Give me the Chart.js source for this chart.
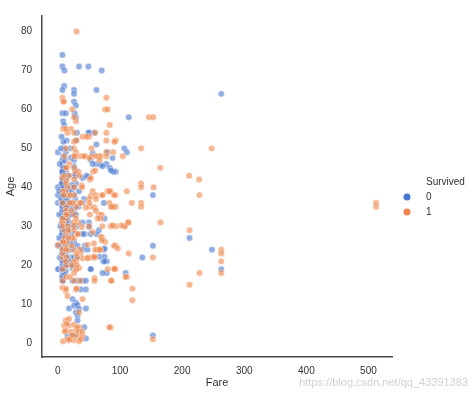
<!DOCTYPE html>
<html>
<head>
<meta charset="utf-8">
<script src="https://cdn.jsdelivr.net/npm/chart.js@4"></script>
<style>
  html, body { margin: 0; padding: 0; background: #fff; }
  #wrap { width: 474px; height: 396px; }
</style>
</head>
<body>
<div id="wrap"><canvas id="chart" width="474" height="396"></canvas></div>
<script>
/* Fare vs Age, Titanic, hue = Survived */
const xTicks = [0, 100, 200, 300, 400, 500];
const yTicks = [0, 10, 20, 30, 40, 50, 60, 70, 80];
const hueLabels = ["0", "1"];

// [fare, age] for Survived = 0
const diedPoints = [
  [263,64],[153,38],[212,27],[153,25],[136,22],[248,24],[263,19],[153,2],[114,58],[107,50],[111,49],[93,44],[109,18],
  [49,71],[70.5,70],[62,65],[51,54],[62,51],[62,46],[78,46],[83.5,45],[89.5,44],[46,43],[42,37],[74,36],[50,31],
  [66,29],[43,28],[52.7,28],[43.5,25],[74,24],[73,21],[78.6,21],[52.7,19],[78.6,18],
  [7.3,74],[7.3,71],[10.5,70],[34,71],[10,66],[7.3,65],[26,65],[26,64],[26,62],[29,61],[7.3,59],[12.7,59],[29,58],
  [27,59],[8.4,57],[10,56],[30.5,54],[49,54],[58.7,54],[14,52],[9,51.7],[29,52],[0,49],[10,50],[12.7,49],[8.4,48],
  [21,47.6],[56,48.7],[80,49],[88,47.5],[7.3,47],[8,46.2],[9,45],[7.5,44],[8.5,43],[26,47],[26,45.4],[29,44.3],
  [53,47],[56,46],[69,45.8],[72,45.4],[85.6,44.3],[39.7,42.4],[48,42.8],[29,41],[22.4,40.6],
  [39.7,36],[75,32],[39.7,31],[50.6,29.8],[62.4,28],[40,28],[39.7,24],[47.8,24],[75,24.3],[66.8,22.2],[75,22.2],[75,21],
  [2,19],[10,19],[12.7,18.4],[23.5,19.3],[53,19],[72,18],[7.3,17.2],[7.3,16],[23.5,16],[31.6,16],[39.7,16],[45,16],
  [37,13.8],[45,13.8],[23.5,11.3],[29,10.4],[18,8.9],[26,9.6],[31.6,9.8],[34,8.8],[45,8.9],[29,7.9],[31.6,7.1],
  [31.6,5.8],[42.5,4.1],[23.5,2],[29,1.8],[15.4,1.8],[45,1.2],
  [7.25,22],[8.05,35],[8.46,29],[7.9,20],[8.05,39],[18,31],[13,35],[7.9,28],[7.23,40],[7.75,19],[26,40],[8.05,28],
  [8.05,42],[7.85,21],[7.78,18],[7.05,40],[18,24],[9.5,19],[7.9,38],[7.25,19],[26,34],[7.9,35],[8.05,19],[14.45,29],
  [13,28],[8.05,26],[7.75,22],[15.5,40],[7.9,34],[10.5,31],[0,36],[8.05,16],[9.5,25],[13,24],[7.25,17],[7.9,30],
  [7.9,22],[7.75,45],[13,23],[26,33],[8.05,32],[15.85,37],[9.83,32],[7.9,31],[0,40],[8.05,40.5],[7.75,23],[13,27],
  [14.5,26],[6.98,36],[8.66,30],[7.9,33],[9.22,30],[16.1,20],[7.05,21],[7.8,44],[8.05,41],[7.75,38],[0,19],[0,25],
  [10.5,36],[24.15,25],[26,26],[27.7,37],[16.7,34],[7.9,37],[7.9,24],[7.9,27],[7.9,29],[7.9,32],[7.9,36],[8.05,43],
  [8.05,25],[8.05,23],[13,21],[13,30],[13,32],[13,34],[13,39],[13,44],[10.5,18],[10.5,25],[10.5,42],[6.75,33],
  [6.5,36],[7.13,26],[7.13,35],[7.5,30],[7.5,38],[7.23,27],[7.23,21],[7.65,29],[7.65,23],[9,28],[9.48,33],[9.5,45],
  [14.4,38],[15.1,25],[15.25,32],[19.97,28],[21,22],[21,30],[22.5,24],[23.45,33],[26.25,22],[30.07,30],[31,22],
  [34,39],[0,38],[7.9,41],[8.05,37],[13,37],[13,42],[26,38],[26,43],[7.25,30],[7.25,36],[8.05,33],[7.9,26],[7.75,27],
  [16.1,29],[17.8,35],[21,36],[24.15,20],[27.9,43],[7.9,23],[9.5,33],[13,20],[7.75,32],[7.25,42],
  [2,39],[2,33],[2,27],[3,22],[4,30],[5,37],[5,25],[6,19],[6,41],[6.2,31],[6.4,28],[6.6,23],[6.9,34],[7,44],
  [7.1,38],[7.4,32],[7.6,20],[7.7,35],[8.2,29],[8.3,24],[8.6,36],[8.8,21],[9.2,40],[9.6,27],[10,34],[10.2,23],
  [11,38],[11.3,29],[11.6,20],[12,33],[12.4,26],[14,31],[14.8,22],[15,35],[16,27],[17,39],[18.5,21],[19.5,33],
  [20,26],[22,39],[24,30],[25,35],[27,28],[29,33],[31.5,25],[33,35],[5,50],[6,53],[3,46],[11,47],[16,43],[20,50]
];

// [fare, age] for Survived = 1
const survivedPoints = [
  [512.3,35],[512.3,36],[146.5,58],[153.5,58],[134,50],[247.5,50],[164.9,45],[211.3,43],[227.5,42],[134,41],[134,40],
  [154,40],[228,38],[134,36],[134,35],[165,31],[212,29],[153,22],[263,24],[263,23],[263,21],[263,18],[228,18],[212,15],
  [153,1],[93,52],[111,39],[93,38],[119,36],[93,35],[114,31],[107,30],[93,30],[93,25],[114,23],[93,19],[111,17],
  [120,14],[120,11],[85,4],
  [78,63],[76,60],[80,60],[83.5,56],[60,54],[50,53],[78,54],[78,52],[54,50],[89,49],[78,49],[78,48],[36.5,48],
  [43.5,48],[54,48],[65,48],[56.5,44],[51.5,42],[38,40.5],[70.5,38],[80,39],[85,39],[90.5,38],[52.7,37.8],[88,35],
  [90,35],[51.5,35],[51.5,33],[38,36],[50,37],[66,33],[70.5,33],[69,32],[50,30],[85,30],[108,30],[113,31],[71.6,30],
  [71.6,27],[76,26],[58,25.6],[90.5,25],[63.5,24],[69,24],[49,22],[55.5,22],[36.5,23],[59.6,22],[90.5,19],[59,16.7],
  [59,16],[86.7,16],[109,17],
  [30,80],[7.3,63],[10,62],[9,62],[29,57],[21,55],[15.4,54],[26,54],[8.6,55],[39.7,53],[46,53],[26,51.7],[91,51.7],
  [26,50],[29,49],[29,48],[42.5,48],[50.6,47.5],[61.3,48],[69,48],[104.5,48],[18,46],[18,43],[67,47],[60,44.3],
  [53,42.4],[7.3,42.4],[13.8,41.7],
  [56,39],[61,38],[72,38],[83,39],[50.6,36],[61.3,37],[83,36],[85.6,35],[45,34.8],[58.7,34.8],[61.3,34],[64,32],
  [88,30.2],[102,30.2],[33,30.9],[38.6,29.8],[56,28.5],[69.4,27.3],[71,26.4],[47.8,25.3],[60,24],[66.8,24],[96.4,24.3],
  [0,25.2],[39.7,21.8],[47.8,21.8],[58.7,22.2],[29,21],[80,19],[91,19.1],
  [29,19],[34,19.3],[85.6,16],[36,16],[7.3,14.2],[12.7,13.4],[29,13.8],[15.4,12.1],[39.7,11.3],[34,7.9],[12.7,5.8],
  [18,6.2],[10,4.5],[18,4.5],[26,4.7],[34,4.1],[83,4.1],[12.7,3.3],[20.7,2.9],[29,3.3],[34,1.8],[39.7,2],[8.4,0.5],
  [18,0.75],[26,0.75],[34,0.5],[15.7,1],[19.3,1],[27.9,2],[31.3,4],[11.1,3],[14.4,5],[23,2],[33,3],[37,1],[39,3],
  [26,24],[7.9,26],[13,28],[7.75,22],[26,33],[10.5,29],[30,19],[13,35],[11.13,27],[30.07,14],[13,14],[7.9,31],
  [7.23,31],[26,40],[13,32],[26,36],[15.24,24],[7.75,16],[26,21],[13,34],[7.88,30],[12.35,25],[31,22],[7.74,23],
  [13,33],[26,27],[30,35],[13.5,20],[16.1,38],[26.25,42],[23,36],[13.79,26],[14.45,33],[15.5,40],[12.29,39],
  [31.39,28],[22.36,25],[14.45,45],[33,44],[26,48],[13,41],[10.5,48],[18.75,36],[13.86,22],[7.78,32],[7.93,39],
  [8.05,19],[8.66,26],[9.59,38],[12.65,21],[13,17],[26,30],[26,18],[30.5,20],[10.5,43],[7.23,36],[7.55,24],[15.9,30],
  [19.26,17],[22.02,34],[26,29],[26,31],[35.5,24],[29.13,32],[23.25,27],[27.72,44],[32.5,28],[34.65,43],[39,40],
  [35.5,36],[26,58],[23,60],[13,55],[26,45],[30,52],[13,50],[13,45],[26,38],[29.7,23],[17.4,27],[20.2,38],[26,16],
  [13,24],[16.7,29],[22.4,20]
];

const toXY = pts => pts.map(p => ({ x: p[0], y: p[1] }));

const palette = ["#4878d0", "#ee854a"];
const fills = ["rgba(72,120,208,0.6)", "rgba(238,133,74,0.6)"];

const overlay = {
  id: "overlay",
  afterDraw(chart) {
    const c = chart.ctx;
    c.save();
    c.font = "10px 'Liberation Sans', Arial, sans-serif";
    c.fillStyle = "#333";
    c.textBaseline = "middle";
    c.textAlign = "left";
    c.fillText("Survived", 426, 182);
    hueLabels.forEach((lab, i) => {
      const y = 197 + i * 15;
      c.beginPath();
      c.arc(407, y, 3.5, 0, Math.PI * 2);
      c.fillStyle = palette[i];
      c.fill();
      c.fillStyle = "#333";
      c.fillText(lab, 426, y);
    });
    // watermark from the source image
    c.font = "11px 'Liberation Sans', Arial, sans-serif";
    c.fillStyle = "rgba(190,190,190,0.7)";
    c.textAlign = "right";
    c.fillText("https://blog.csdn.net/qq_43391383", 468, 383);
    c.restore();
  }
};

new Chart(document.getElementById("chart"), {
  type: "scatter",
  data: {
    datasets: [
      {
        label: hueLabels[1],
        data: toXY(survivedPoints),
        backgroundColor: fills[1],
        borderColor: "rgba(255,255,255,0.8)",
        borderWidth: 0.5,
        pointRadius: 3.2
      },
      {
        label: hueLabels[0],
        data: toXY(diedPoints),
        backgroundColor: fills[0],
        borderColor: "rgba(255,255,255,0.8)",
        borderWidth: 0.5,
        pointRadius: 3.2
      }
    ]
  },
  options: {
    responsive: false,
    animation: false,
    layout: { padding: { top: 11, right: 82, bottom: 0, left: 0 } },
    plugins: {
      legend: { display: false },
      tooltip: { enabled: false }
    },
    scales: {
      x: {
        type: "linear",
        min: -25.6,
        max: 537.9,
        afterBuildTicks: s => { s.ticks = xTicks.map(v => ({ value: v })); },
        afterFit: s => { s.height = 39; },
        grid: { display: false, drawTicks: false },
        border: { display: true, color: "#4a4a4a", width: 1.5 },
        ticks: { color: "#333", padding: 8, font: { size: 10, family: "'Liberation Sans', Arial, sans-serif" } },
        title: { display: true, text: "Fare", color: "#333", padding: { top: 2, bottom: 6 },
                 font: { size: 11, family: "'Liberation Sans', Arial, sans-serif" } }
      },
      y: {
        type: "linear",
        min: -3.56,
        max: 83.98,
        afterBuildTicks: s => { s.ticks = yTicks.map(v => ({ value: v })); },
        afterFit: s => { s.width = 42; },
        grid: { display: false, drawTicks: false },
        border: { display: true, color: "#4a4a4a", width: 1.5 },
        ticks: { color: "#333", padding: 10, font: { size: 10, family: "'Liberation Sans', Arial, sans-serif" } },
        title: { display: true, text: "Age", color: "#333", padding: { top: 4, bottom: 0 },
                 font: { size: 11, family: "'Liberation Sans', Arial, sans-serif" } }
      }
    }
  },
  plugins: [overlay]
});
</script>
</body>
</html>
